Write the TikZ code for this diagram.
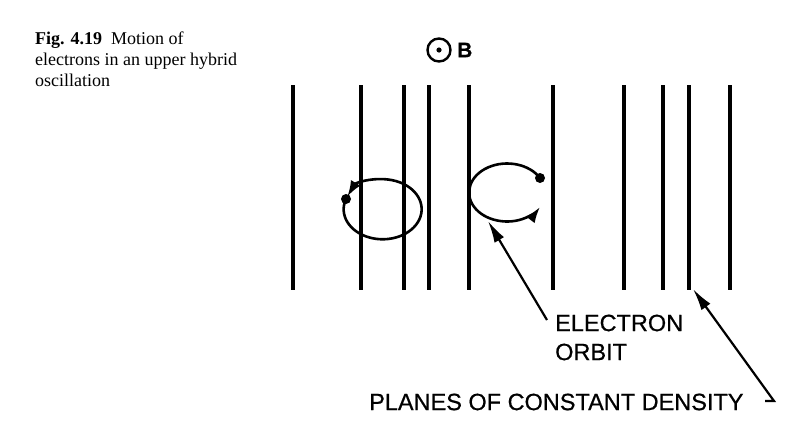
\documentclass[tikz,border=0pt]{standalone}
\usepackage{fontspec}
\setmainfont{Liberation Serif}
\newfontfamily\lab[FakeBold=0.6]{Liberation Sans}
\usetikzlibrary{arrows.meta}
\begin{document}
\begin{tikzpicture}[x=1pt,y=-1pt,
  plane/.style={line width=3.4pt},
  orb/.style={line width=2.6pt},
  ptr/.style={line width=2.2pt,-{Latex[length=22pt,width=11pt]}},
  lbl/.style={font=\lab\fontsize{23.5}{26}\selectfont,inner sep=0pt,anchor=west}]
\useasboundingbox (0,0) rectangle (808,437);
\node[anchor=north west,align=left,inner sep=0pt,font=\fontsize{18}{21}\selectfont] (cap) at (35,32)
 {\textbf{Fig. 4.19}\ \ Motion of\\electrons in an upper hybrid\\oscillation};
\foreach \x [count=\i] in {293,361,404,429,469,553,624,663,689,730}
  \draw[plane] (\x,85) -- (\x,290) coordinate (p\i);
\node[circle,draw,line width=2.4pt,minimum size=23pt,inner sep=0pt] (bc) at (439,50) {};
\fill (bc.center) circle (2.6pt);
\node[lbl,font=\lab\bfseries\fontsize{21}{24}\selectfont] (B) at (457,50) {B};
% left orbit
\fill (346,199) circle (5pt) coordinate (d1);
\draw[orb,-{Latex[length=16pt,width=11pt]}] (d1) arc[start angle=200,end angle=-155,x radius=39,y radius=30];
% right orbit
\fill (540,178) circle (5pt) coordinate (d2);
\draw[orb,-{Latex[length=16pt,width=11pt]}] (d2) arc[start angle=-30,end angle=-330,x radius=38,y radius=29];
\coordinate (ot) at (488,221);
\node[lbl] (eo) at (555,323) {ELECTRON};
\node[lbl] (or) at (555,352) {ORBIT};
\draw[ptr] (547,320) -- (ot);
\node[lbl] (pl) at (369,402) {PLANES OF CONSTANT DENSITY};
\coordinate (hk) at (765,401);
\draw[ptr] (hk) -- (774,401) -- (693,289);
\end{tikzpicture}
\end{document}
